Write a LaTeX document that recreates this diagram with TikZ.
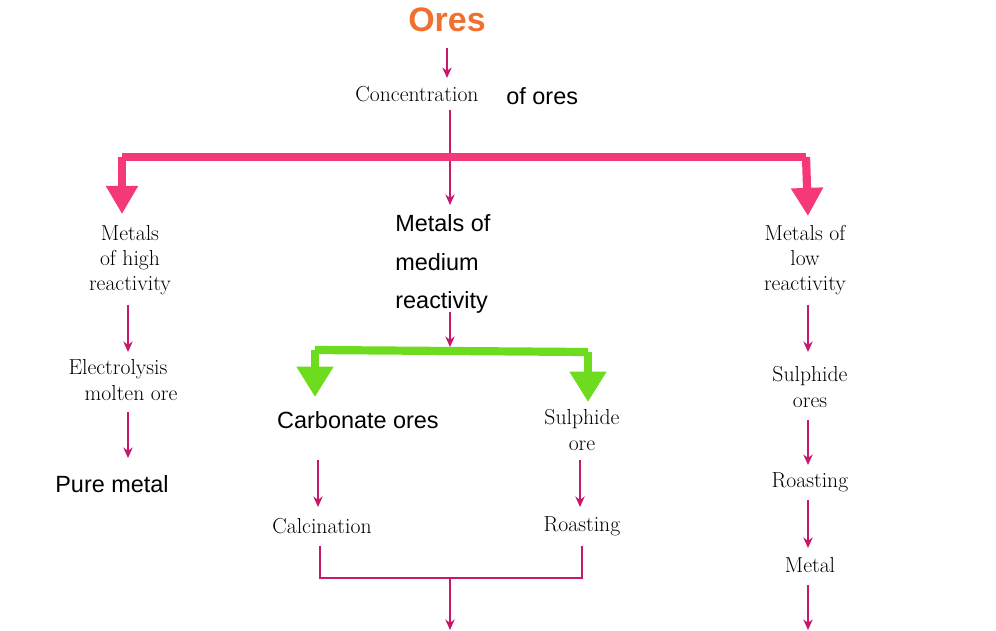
\documentclass[tikz,border=0pt]{standalone}
\usepackage{fontspec}
\newfontfamily\sansf{Liberation Sans}
\usetikzlibrary{arrows.meta}
\definecolor{mag}{HTML}{C8186E}
\definecolor{pinkb}{HTML}{F53878}
\definecolor{grn}{HTML}{6EDC1E}
\definecolor{orng}{HTML}{F07030}
\begin{document}
\begin{tikzpicture}[x=0.03cm,y=-0.03cm,
  ser/.style={font=\fontsize{18.5}{21.5}\selectfont,align=center,inner sep=1pt},
  san/.style={font=\sansf\fontsize{20}{28}\selectfont,inner sep=1pt},
  arr/.style={draw=mag,line width=1.6pt,-{Stealth[length=9pt,width=8pt]}},
  pk/.style={draw=pinkb,line width=7pt},
  pka/.style={draw=pinkb,line width=7pt,-{Triangle[length=24pt,width=26pt]}},
  gr/.style={draw=grn,line width=7pt},
  gra/.style={draw=grn,line width=7pt,-{Triangle[length=26pt,width=30pt]}}]
\useasboundingbox (0,0) rectangle (996,630);
\node[font=\sansf\bfseries\fontsize{29}{32}\selectfont,text=orng] (ores) at (447,20) {Ores};
\node[ser] (conc) at (417,94) {Concentration};
\node[san,anchor=west] (of) at (505,96) {of ores};
\coordinate (c1) at (447,48); \coordinate (c2) at (447,78);
\draw[arr] (c1) -- (c2);
\coordinate (c3) at (450,110); \coordinate (c4) at (450,205);
\draw[arr] (c3) -- (c4);
\coordinate (bl) at (122,157); \coordinate (br) at (806,157);
\coordinate (blt) at (122,214); \coordinate (brt) at (808,216);
\draw[pk] (bl) -- (br);
\draw[pka] (bl) -- (blt);
\draw[pka] (br) -- (brt);
\node[ser] (high) at (130,260) {Metals\\of high\\reactivity};
\node[san,align=left,anchor=north west,font=\sansf\fontsize{20}{33}\selectfont] (med) at (394,213) {Metals of\\medium\\reactivity};
\node[ser] (low) at (805,260) {Metals of\\low\\reactivity};
\coordinate (m1) at (450,312); \coordinate (m2) at (450,347);
\draw[arr] (m1) -- (m2);
\coordinate (gl) at (315,350); \coordinate (gr) at (588,352);
\coordinate (glt) at (315,397); \coordinate (grt) at (588,402);
\draw[gr] (gl) -- (gr);
\draw[gra] (gl) -- (glt);
\draw[gra] (gr) -- (grt);
\node[ser] (elec) at (118,380) {Electrolysis\\\hspace*{1.2em}molten ore};
\node[san] (pure) at (112,484) {Pure metal};
\coordinate (h1) at (128,305); \coordinate (h2) at (128,352);
\draw[arr] (h1) -- (h2);
\coordinate (h3) at (128,412); \coordinate (h4) at (128,458);
\draw[arr] (h3) -- (h4);
\node[san] (carb) at (358,420) {Carbonate ores};
\node[ser] (sul) at (582,430) {Sulphide\\ore};
\coordinate (a1) at (318,460); \coordinate (a2) at (318,507);
\coordinate (a3) at (580,460); \coordinate (a4) at (580,507);
\draw[arr] (a1) -- (a2); \draw[arr] (a3) -- (a4);
\node[ser] (calc) at (322,526) {Calcination};
\node[ser] (roas) at (582,526) {Roasting};
\coordinate (k1) at (320,546); \coordinate (k2) at (320,578);
\coordinate (k3) at (582,578); \coordinate (k4) at (582,546);
\draw[mag,line width=1.6pt] (k1) -- (k2) -- (k3) -- (k4);
\coordinate (k5) at (450,578); \coordinate (k6) at (450,630);
\draw[arr] (k5) -- (k6);
\node[ser] (sul2) at (810,387) {Sulphide\\ores};
\node[ser] (roas2) at (810,482) {Roasting};
\node[ser] (met) at (810,565) {Metal};
\coordinate (r1) at (808,305); \coordinate (r2) at (808,352);
\coordinate (r3) at (808,420); \coordinate (r4) at (808,465);
\coordinate (r5) at (808,500); \coordinate (r6) at (808,548);
\coordinate (r7) at (808,585); \coordinate (r8) at (808,630);
\draw[arr] (r1) -- (r2); \draw[arr] (r3) -- (r4);
\draw[arr] (r5) -- (r6); \draw[arr] (r7) -- (r8);
\end{tikzpicture}
\end{document}
